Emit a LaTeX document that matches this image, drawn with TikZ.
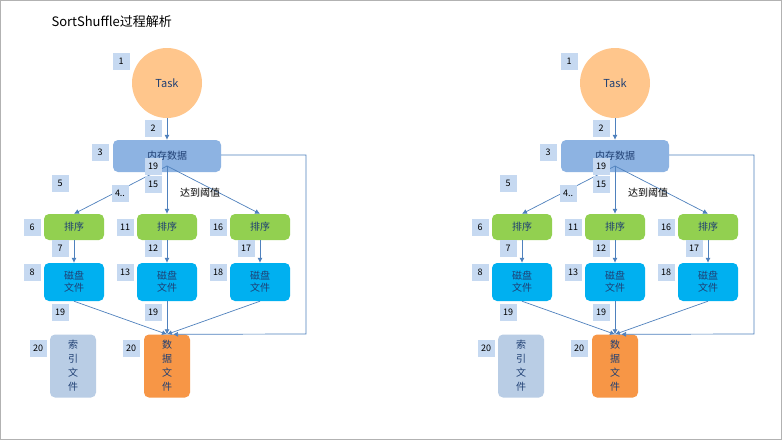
\documentclass[tikz,border=0pt]{standalone}
\usepackage{fontspec}
\setmainfont{Noto Sans CJK SC}
\usetikzlibrary{arrows.meta}
\definecolor{lbl}{HTML}{C6D9F1}
\definecolor{txt}{HTML}{1F3F73}
\definecolor{ln}{HTML}{4F81BD}
\tikzset{
 num/.style={fill=lbl,minimum width=17pt,minimum height=17pt,inner sep=0pt,font=\fontsize{9}{10}\selectfont,text=black},
 box/.style={rounded corners=5pt,inner sep=0pt,text=txt,font=\fontsize{10}{12}\selectfont,align=center},
 con/.style={draw=ln,line width=0.7pt,-{Latex[length=5pt,width=5pt]}},
}
\begin{document}
\begin{tikzpicture}[x=1pt,y=-1pt]
\draw[draw=gray!60,fill=white] (0.5,0.5) rectangle (781.5,439.5);
\useasboundingbox (0,0) rectangle (782,440);
\node[anchor=west,font=\fontsize{13}{15}\selectfont] (title) at (48,22) {SortShuffle过程解析};
\foreach \dx/\p in {0/L,448/R}{
\begin{scope}[xshift=\dx]
\node[circle,fill=orange!45!white,minimum size=70pt,text=txt,font=\fontsize{11}{13}\selectfont] (\p task) at (167,83) {Task};
\node[box,fill=blue!25!cyan!30!white,fill={rgb,255:red,141;green,179;blue,226},minimum width=108pt,minimum height=32pt] (\p mem) at (167,156) {内存数据};
\foreach \x/\q in {74/a,167/b,260/c}{
 \node[box,fill={rgb,255:red,146;green,208;blue,80},minimum width=60pt,minimum height=26pt] (\p sort\q) at (\x,227) {排序};
 \node[box,fill={rgb,255:red,0;green,176;blue,240},minimum width=60pt,minimum height=38pt] (\p disk\q) at (\x,282) {磁盘\\文件};
 \draw[con] (\p sort\q) -- (\p disk\q);
}
\node[box,fill={rgb,255:red,185;green,205;blue,229},minimum width=46pt,minimum height=63pt,font=\fontsize{10}{14}\selectfont] (\p idx) at (73,366) {索\\引\\文\\件};
\node[box,fill={rgb,255:red,247;green,150;blue,70},minimum width=46pt,minimum height=63pt,font=\fontsize{10}{14}\selectfont] (\p data) at (167,366) {数\\据\\文\\件};
\coordinate (\p src) at (167,166);
\draw[con] (\p task) -- (\p mem);
\draw[con] (\p src) -- (\p sorta.north);
\draw[con] (\p src) -- (\p sortb.north);
\draw[con] (\p src) -- (\p sortc.north);
\foreach \q in {a,b,c}{\draw[con] (\p disk\q.south) -- (\p data.north);}
\coordinate (\p r1) at (306,155);
\coordinate (\p r2) at (306,334);
\draw[con] (\p mem.east|-\p r1) -- (\p r1) -- (\p r2) -- ([xshift=6pt]\p data.north);
\node[font=\fontsize{10}{12}\selectfont] (\p thr) at (200,193) {达到阈值};
\node[num] (\p n1) at (121,61) {1};
\node[num] (\p n2) at (153,128) {2};
\node[num] (\p n3) at (100,152) {3};
\node[num] (\p n19a) at (153,166) {19};
\node[num] (\p n15) at (153,184) {15};
\node[num] (\p n5) at (60,183) {5};
\node[num] (\p n4) at (120,193) {4..};
\node[num] (\p n6) at (32,227) {6};
\node[num] (\p n11) at (125,227) {11};
\node[num] (\p n16) at (218,227) {16};
\node[num] (\p n7) at (60,248) {7};
\node[num] (\p n12) at (153,248) {12};
\node[num] (\p n17) at (246,248) {17};
\node[num] (\p n8) at (32,272) {8};
\node[num] (\p n13) at (125,272) {13};
\node[num] (\p n18) at (218,272) {18};
\node[num] (\p n19b) at (60,312) {19};
\node[num] (\p n19c) at (153,312) {19};
\node[num] (\p n20a) at (38,348) {20};
\node[num] (\p n20b) at (131,348) {20};
\end{scope}
}
\end{tikzpicture}
\end{document}
